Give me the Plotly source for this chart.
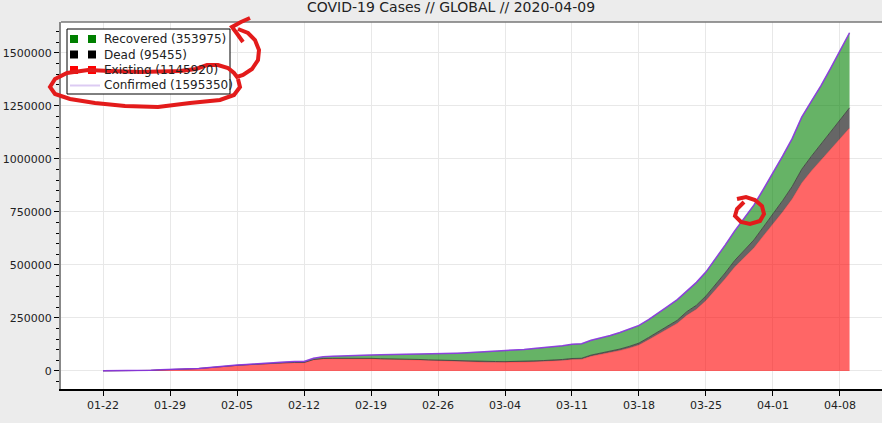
import plotly.graph_objects as go
import pandas as pd

# dados globais (JHU) de 2020-01-22 a 2020-04-09
dates = pd.date_range("2020-01-22", "2020-04-09", freq="D")

confirmed = [555, 654, 941, 1434, 2118, 2927, 5578, 6166, 8234, 9927,
             12038, 16787, 19881, 23892, 27635, 30794, 34391, 37120, 40150, 42762,
             44802, 45221, 60368, 66885, 69030, 71224, 73258, 75136, 75639, 76197,
             76823, 78579, 78965, 79568, 80413, 81395, 82754, 84120, 86011,
             88369, 90306, 92840, 95120, 97886, 101801, 105847, 109821, 113590, 118620,
             125875, 128352, 145205, 156101, 167454, 181574, 197102, 214821, 242570, 272208,
             304507, 336953, 378235, 418045, 467653, 529591, 593291, 660706, 720117, 782365,
             857487,
             932605, 1013466, 1095917, 1197405, 1272115, 1345101, 1426096, 1511104, 1595350]

dead = [17, 18, 26, 42, 56, 82, 131, 133, 171, 213,
        259, 362, 426, 492, 564, 634, 719, 806, 906, 1013,
        1113, 1118, 1371, 1523, 1666, 1770, 1868, 2007, 2122, 2247,
        2251, 2458, 2469, 2629, 2708, 2770, 2814, 2872, 2941,
        2996, 3085, 3160, 3254, 3348, 3460, 3558, 3803, 3996, 4262,
        4615, 4720, 5404, 5819, 6440, 7126, 7905, 8733, 9867, 11299,
        12973, 14623, 16497, 18615, 21181, 23970, 27198, 30652, 33925, 37582,
        42107,
        46809, 52983, 58787, 64606, 69374, 74565, 81865, 88338, 95455]

recovered = [28, 30, 36, 39, 52, 61, 107, 126, 143, 222,
             284, 472, 623, 852, 1124, 1487, 2011, 2616, 3244, 3946,
             4683, 5150, 6295, 8058, 9395, 10865, 12583, 14352, 16121, 18177,
             18890, 22886, 23394, 25227, 27905, 30384, 33277, 36711, 39782,
             42716, 45602, 48228, 51170, 53796, 55865, 58358, 60694, 62494, 64404,
             67003, 68324, 70251, 72624, 76034, 78088, 80840, 83207, 84854, 87256,
             91499, 97704, 98349, 107891, 113604, 122160, 130925, 139415, 149082, 164566,
             178034,
             193177, 210263, 225796, 246152, 260012, 276515, 300054, 328661, 353975]

# casos ativos = confirmados - mortos - recuperados
existing = [c - d - r for c, d, r in zip(confirmed, dead, recovered)]

tick_dates = pd.date_range("2020-01-22", "2020-04-08", freq="7D")
tick_labels = ["01-22", "01-29", "02-05", "02-12", "02-19", "02-26",
               "03-04", "03-11", "03-18", "03-25", "04-01", "04-08"]
y_ticks = [0, 250000, 500000, 750000, 1000000, 1250000, 1500000]

W, H = 882, 423
L, R, T, B = 61, 882, 22, 389


def px(x):
    return (x - L) / (R - L)


def py(y):
    return (B - y) / (B - T)


FONT = "DejaVu Sans"

fig = go.Figure()

fig.add_trace(go.Scatter(x=dates, y=existing, stackgroup="s", mode="lines",
                         line=dict(color="rgba(255,0,0,0.25)", width=1),
                         fillcolor="rgba(255,0,0,0.6)", name="Existing", showlegend=False))
fig.add_trace(go.Scatter(x=dates, y=dead, stackgroup="s", mode="lines",
                         line=dict(color="rgba(60,60,60,0.8)", width=1),
                         fillcolor="rgba(0,0,0,0.6)", name="Dead", showlegend=False))
fig.add_trace(go.Scatter(x=dates, y=recovered, stackgroup="s", mode="lines",
                         line=dict(color="rgba(0,128,0,0.4)", width=0.5),
                         fillcolor="rgba(0,128,0,0.6)", name="Recovered", showlegend=False))
fig.add_trace(go.Scatter(x=dates, y=confirmed, mode="lines",
                         line=dict(color="rgba(140,50,230,0.9)", width=1.5),
                         name="Confirmed", showlegend=False))

shapes = []
annotations = []

# borda superior do grafico
shapes.append(dict(type="line", xref="paper", yref="paper", x0=0, x1=1, y0=1, y1=1,
                   line=dict(color="#777777", width=1.5)))

# legenda no estilo do pyqtgraph
shapes.append(dict(type="rect", xref="paper", yref="paper",
                   x0=px(67), x1=px(230), y0=py(29), y1=py(94),
                   fillcolor="white", line=dict(color="black", width=1)))
legend_rows = [("Recovered", recovered[-1], "#008000", 39),
               ("Dead", dead[-1], "#000000", 54.5),
               ("Existing", existing[-1], "#ff0000", 70),
               ("Confirmed", confirmed[-1], None, 85.5)]
for name, val, col, yy in legend_rows:
    if col:
        for cx in (74, 92):
            shapes.append(dict(type="rect", xref="paper", yref="paper",
                               x0=px(cx - 4), x1=px(cx + 4), y0=py(yy - 4), y1=py(yy + 4),
                               fillcolor=col, line=dict(width=0)))
    else:
        shapes.append(dict(type="line", xref="paper", yref="paper",
                           x0=px(70), x1=px(100), y0=py(yy), y1=py(yy),
                           line=dict(color="#dccbf3", width=2)))
    annotations.append(dict(text="%s (%d)" % (name, val), xref="paper", yref="paper",
                            x=px(102), y=py(yy), xanchor="left", yanchor="middle",
                            showarrow=False, font=dict(family=FONT, size=12, color="#222222")))

# rabiscos vermelhos
def path(points):
    s = "M %f,%f" % (px(points[0][0]), py(points[0][1]))
    for x, y in points[1:]:
        s += " L %f,%f" % (px(x), py(y))
    return s


red = dict(color="#e31b1b", width=4)
scribbles = [
    [(250, 18), (241, 22), (232, 27), (238, 35), (243, 42)],
    [(238, 29), (248, 33), (255, 40), (259, 50), (258, 60), (252, 69), (243, 75), (237, 77),
     (234, 73), (228, 68), (218, 65), (207, 65), (196, 69), (180, 71), (140, 72), (110, 71),
     (88, 70), (67, 73), (55, 79), (50, 87), (55, 94), (70, 99), (95, 103), (125, 106),
     (158, 107), (190, 103), (220, 100), (234, 95), (240, 87), (238, 79)],
    [(737, 199), (746, 197), (755, 200), (762, 206), (764, 214), (760, 221), (750, 224),
     (741, 222), (735, 216), (737, 209), (744, 202)],
]
for pts in scribbles:
    shapes.append(dict(type="path", xref="paper", yref="paper", path=path(pts), line=red,
                       layer="above"))

fig.update_layout(
    width=W, height=H,
    margin=dict(l=L, r=W - R, t=T, b=H - B, pad=0),
    paper_bgcolor="#ececec",
    plot_bgcolor="white",
    font=dict(family=FONT, size=11, color="#222222"),
    title=dict(text="COVID-19 Cases // GLOBAL // 2020-04-09", x=451 / W, xanchor="center",
               y=1 - 7 / H, yanchor="middle", font=dict(family=FONT, size=14, color="#222222")),
    showlegend=False,
    shapes=shapes,
    annotations=annotations,
)

fig.update_xaxes(range=[pd.Timestamp("2020-01-17 14:38"), pd.Timestamp("2020-04-12 09:22")],
                 tickvals=tick_dates, ticktext=tick_labels,
                 ticks="outside", ticklen=5, tickcolor="black",
                 showline=True, linecolor="black", linewidth=1.5,
                 showgrid=True, gridcolor="#e8e8e8", gridwidth=1, zeroline=False)
fig.update_yaxes(range=[-85000, 1646000], tickvals=y_ticks, tickformat="d",
                 ticks="outside", ticklen=5, tickcolor="black",
                 minor=dict(dtick=50000, ticks="outside", ticklen=3, tickcolor="black"),
                 showline=True, linecolor="#888888", linewidth=2,
                 showgrid=True, gridcolor="#e8e8e8", gridwidth=1, zeroline=False)

# sem margem no body da pagina e sem barra de ferramentas
fig.write_html("out.html", config={"displayModeBar": False},
               post_script="document.body.style.margin='0';document.body.style.overflow='hidden';")
